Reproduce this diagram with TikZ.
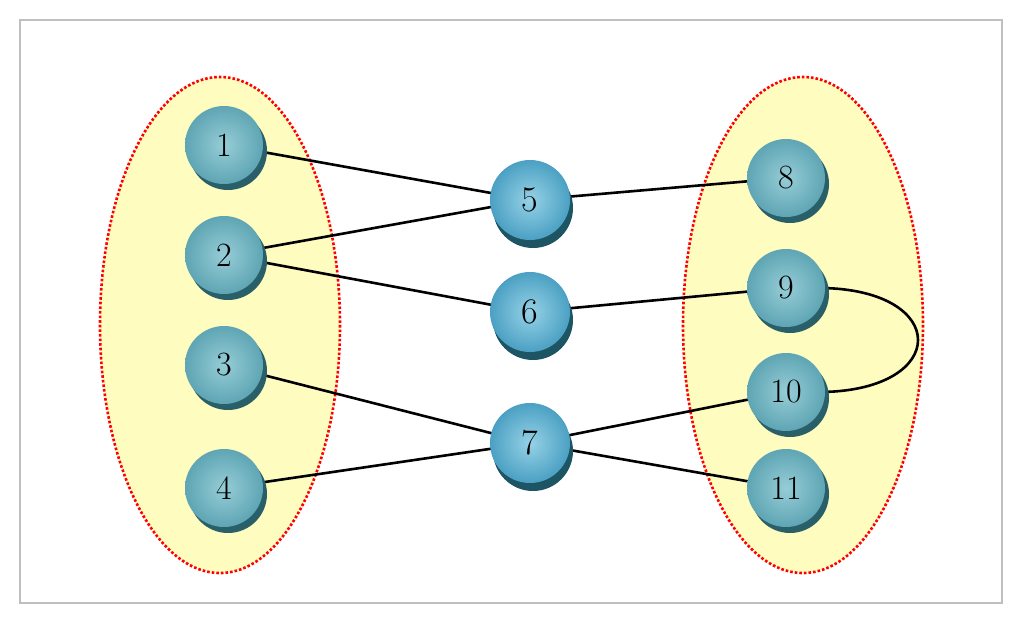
\documentclass[tikz,border=0pt]{standalone}
\usepackage{fontspec}
\usepackage{tikz}
\usetikzlibrary{calc,shadows}
\definecolor{sA}{RGB}{150,205,215}
\definecolor{sB}{RGB}{95,165,180}
\definecolor{sS}{RGB}{40,95,105}
\definecolor{mA}{RGB}{150,210,230}
\definecolor{mB}{RGB}{75,160,195}
\definecolor{mS}{RGB}{30,85,100}
\begin{document}
\begin{tikzpicture}[x=1pt,y=-1pt,
  grp/.style={draw=red,line width=2.6pt,dotted,fill=yellow!25},
  sn/.style={circle,minimum size=78pt,inner sep=0pt,font=\fontsize{34}{34}\selectfont,
    inner color=sA, outer color=sB,
    drop shadow={shadow xshift=4pt,shadow yshift=-6pt,fill=sS,opacity=1}},
  mn/.style={circle,minimum size=80pt,inner sep=0pt,font=\fontsize{36}{36}\selectfont,
    inner color=mA, outer color=mB,
    drop shadow={shadow xshift=3pt,shadow yshift=-8pt,fill=mS,opacity=1}},
  ed/.style={line width=2.6pt,black}]
\useasboundingbox (0,0) rectangle (1024,624);
\fill[white] (0,0) rectangle (1024,624);
\draw[gray!50,line width=2.5pt] (20,20) rectangle (1002,603);
\draw[grp] (220,325) ellipse [x radius=120,y radius=248];
\draw[grp] (803,325) ellipse [x radius=120,y radius=248];
\coordinate (c1) at (224,145); \coordinate (c2) at (224,255);
\coordinate (c3) at (224,365); \coordinate (c4) at (224,488);
\coordinate (c5) at (530,200); \coordinate (c6) at (530,312); \coordinate (c7) at (530,443);
\coordinate (c8) at (786,178); \coordinate (c9) at (786,288);
\coordinate (c10) at (786,392); \coordinate (c11) at (786,488);
\draw[ed] (c1) -- (c5); \draw[ed] (c2) -- (c5); \draw[ed] (c2) -- (c6);
\draw[ed] (c3) -- (c7); \draw[ed] (c4) -- (c7);
\draw[ed] (c5) -- (c8); \draw[ed] (c6) -- (c9);
\draw[ed] (c7) -- (c10); \draw[ed] (c7) -- (c11);
\draw[ed] ($(c9)+(36,0)$) .. controls (950,290) and (950,390) .. ($(c10)+(36,0)$);
\foreach \i in {1,2,3,4,8,9,10,11} \node[sn] (n\i) at (c\i) {\i};
\foreach \i in {5,6,7} \node[mn] (n\i) at (c\i) {\i};
\end{tikzpicture}
\end{document}
